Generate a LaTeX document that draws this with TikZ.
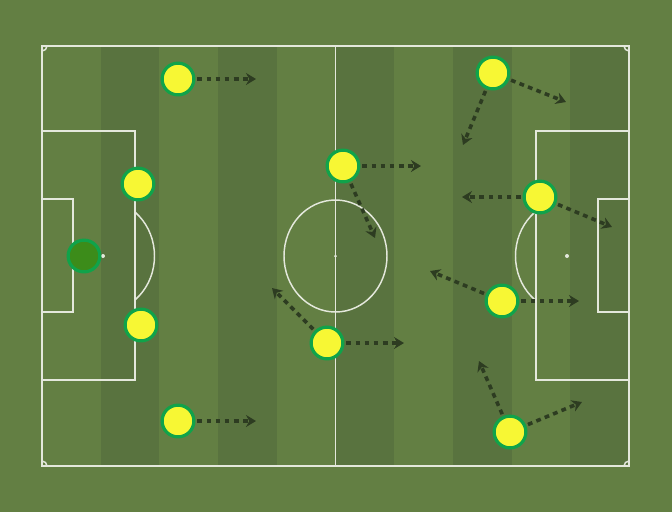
\documentclass[tikz,border=0pt]{standalone}
\usepackage{xcolor}
\usepackage{tikz}
\usetikzlibrary{arrows.meta,shadows}

\definecolor{grass}{RGB}{99,127,67}
\definecolor{stripe}{RGB}{89,115,63}
\definecolor{chalk}{RGB}{228,232,220}
\definecolor{kit}{RGB}{247,247,52}
\definecolor{ring}{RGB}{16,163,74}
\definecolor{keeper}{RGB}{60,140,26}
\definecolor{runline}{RGB}{45,60,33}

\tikzset{
  player/.style={circle, draw=ring, line width=2.4pt, fill=kit, minimum size=23.8pt, inner sep=0pt,
    drop shadow={opacity=0.25, shadow xshift=0.8pt, shadow yshift=-0.8pt}},
  run/.style={runline, line width=2.7pt, dash pattern=on 3.6pt off 3.2pt,
    -{Stealth[length=7.5pt,width=9pt,inset=2.5pt]}, shorten <=1.5pt},
  chalkline/.style={chalk, line width=1.1pt}
}

\begin{document}
\begin{tikzpicture}[x=0.75pt,y=-0.75pt]

\pgfmathsetmacro{\PL}{42}
\pgfmathsetmacro{\PR}{629}
\pgfmathsetmacro{\PT}{46}
\pgfmathsetmacro{\PB}{466}
\pgfmathsetmacro{\SW}{58.7}

% background
\useasboundingbox (0,0) rectangle (672,512);
\fill[grass] (0,0) rectangle (672,512);

% stripes
\foreach \i in {1,3,5,7,9}
  \fill[stripe] ({\PL+\i*\SW},\PT) rectangle ({\PL+(\i+1)*\SW},\PB);

% pitch markings
\draw[chalkline] (\PL,\PT) rectangle (\PR,\PB);
\draw[chalkline] (335.5,\PT)--(335.5,\PB);  % halfway line
\draw[chalkline] (335.5,256) ellipse [x radius=51.5, y radius=56];
\fill[chalk] (335.5,256) circle[radius=1.5];

% left box
\draw[chalkline] (\PL,131) rectangle (135,380);
\draw[chalkline] (\PL,199) rectangle (73,312);
\fill[chalk] (103,256) circle[radius=2];
\begin{scope}
  \clip (135,0) rectangle (200,512);
  \draw[chalkline] (103,256) ellipse [x radius=51.5, y radius=56];
\end{scope}

% right box
\draw[chalkline] (536,131) rectangle (\PR,380);
\draw[chalkline] (598,199) rectangle (\PR,312);
\fill[chalk] (567,256) circle[radius=2];
\begin{scope}
  \clip (470,0) rectangle (536,512);
  \draw[chalkline] (567,256) ellipse [x radius=51.5, y radius=56];
\end{scope}

% corners
\begin{scope}
  \clip (\PL,\PT) rectangle (\PR,\PB);
  \foreach \cx/\cy in {\PL/\PT,\PR/\PT,\PL/\PB,\PR/\PB}
    \draw[chalkline] (\cx,\cy) circle[radius=5];
\end{scope}

% players
\node[player, fill=keeper] (gk) at (84,256) {};
\node[player] (wbt) at (178,79) {};
\node[player] (cbt) at (138,184) {};
\node[player] (cbb) at (141,325) {};
\node[player] (wbb) at (178,421) {};
\node[player] (cmt) at (343,166) {};
\node[player] (cmb) at (327,343) {};
\node[player] (fwa) at (493,73) {};
\node[player] (fwb) at (540,197) {};
\node[player] (fwc) at (502,301) {};
\node[player] (fwd) at (510,432) {};

% run targets
\coordinate (wbt-go) at (256,79);
\coordinate (wbb-go) at (256,421);
\coordinate (cmt-fwd) at (421,166);
\coordinate (cmt-in) at (375,238);
\coordinate (cmb-fwd) at (404,343);
\coordinate (cmb-back) at (272,288);
\coordinate (fwa-out) at (566,102);
\coordinate (fwa-drop) at (463,145);
\coordinate (fwb-drop) at (462,197);
\coordinate (fwb-in) at (612,227);
\coordinate (fwc-in) at (579,301);
\coordinate (fwc-drop) at (430,271);
\coordinate (fwd-drop) at (479,361);
\coordinate (fwd-out) at (582,402);

% runs
\draw[run] (wbt) -- (wbt-go);
\draw[run] (wbb) -- (wbb-go);
\draw[run] (cmt) -- (cmt-fwd);
\draw[run] (cmt) -- (cmt-in);
\draw[run] (cmb) -- (cmb-fwd);
\draw[run] (cmb) -- (cmb-back);
\draw[run] (fwa) -- (fwa-out);
\draw[run] (fwa) -- (fwa-drop);
\draw[run] (fwb) -- (fwb-drop);
\draw[run] (fwb) -- (fwb-in);
\draw[run] (fwc) -- (fwc-in);
\draw[run] (fwc) -- (fwc-drop);
\draw[run] (fwd) -- (fwd-drop);
\draw[run] (fwd) -- (fwd-out);
\end{tikzpicture}
\end{document}
